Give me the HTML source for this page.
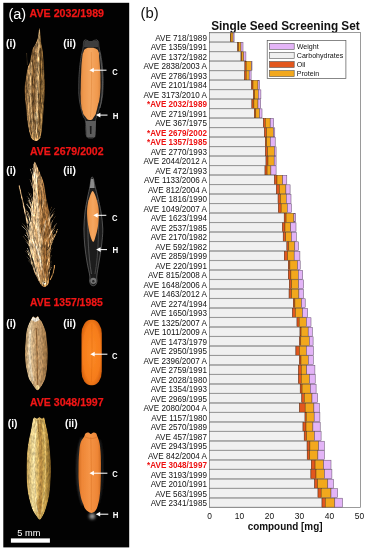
<!DOCTYPE html>
<html lang="en"><head><meta charset="utf-8"><title>Single Seed Screening Set</title>
<style>
html,body{margin:0;padding:0;background:#fff;}
body{width:366px;height:550px;overflow:hidden;font-family:"Liberation Sans",sans-serif;}
svg{display:block;}
text{font-family:"Liberation Sans",sans-serif;}
.yl{font-size:8.55px;fill:#111;text-anchor:end;}
.yr{font-size:8.55px;fill:#ee1111;font-weight:bold;text-anchor:end;}
.tk{font-size:8.9px;fill:#111;text-anchor:middle;}
.lg{font-size:7.5px;fill:#111;}
.red{font-size:10.4px;font-weight:bold;fill:#f01616;stroke:#f01616;stroke-width:0.25px;}
.wh{fill:#fff;font-size:10.5px;}
.ch{fill:#fff;font-size:9.4px;font-weight:bold;}
.ro{fill:#fff;font-size:10.3px;font-weight:bold;}
</style></head><body>
<svg width="366" height="550" viewBox="0 0 366 550">

<defs>
<filter id="b03" x="-20%" y="-20%" width="140%" height="140%"><feGaussianBlur stdDeviation="0.35"/></filter>
<filter id="tex" x="-10%" y="-5%" width="120%" height="110%" color-interpolation-filters="sRGB"><feTurbulence type="fractalNoise" baseFrequency="0.75 0.16" numOctaves="3" seed="4" result="n"/><feColorMatrix in="n" type="matrix" values="1.5 0 0 0 -0.25  1.5 0 0 0 -0.25  1.5 0 0 0 -0.25  0 0 0 0 1" result="g"/><feComposite in="SourceGraphic" in2="g" operator="arithmetic" k1="1.0" k2="0.5" k3="0" k4="0" result="m"/><feComposite in="m" in2="SourceGraphic" operator="in" result="c"/><feGaussianBlur in="c" stdDeviation="0.3"/></filter>
<filter id="tex2" x="-10%" y="-5%" width="120%" height="110%" color-interpolation-filters="sRGB"><feTurbulence type="fractalNoise" baseFrequency="0.6 0.25" numOctaves="2" seed="9" result="n"/><feColorMatrix in="n" type="matrix" values="0.8 0 0 0 0.1  0.8 0 0 0 0.1  0.8 0 0 0 0.1  0 0 0 0 1" result="g"/><feComposite in="SourceGraphic" in2="g" operator="arithmetic" k1="0.7" k2="0.65" k3="0" k4="0" result="m"/><feComposite in="m" in2="SourceGraphic" operator="in" result="c"/><feGaussianBlur in="c" stdDeviation="0.3"/></filter>
<filter id="b06" x="-20%" y="-20%" width="140%" height="140%"><feGaussianBlur stdDeviation="0.6"/></filter>
<filter id="b1" x="-30%" y="-30%" width="160%" height="160%"><feGaussianBlur stdDeviation="1"/></filter>
<filter id="b2" x="-50%" y="-50%" width="200%" height="200%"><feGaussianBlur stdDeviation="1.6"/></filter>
<linearGradient id="g1" x1="0" y1="0" x2="1" y2="0"><stop offset="0" stop-color="#5e4020"/><stop offset="0.2" stop-color="#a88252"/><stop offset="0.42" stop-color="#74522c"/><stop offset="0.55" stop-color="#a88458"/><stop offset="0.78" stop-color="#8e6a3a"/><stop offset="1" stop-color="#442c10"/></linearGradient>
<linearGradient id="g2" x1="0" y1="0" x2="1" y2="0"><stop offset="0" stop-color="#d9bd90"/><stop offset="0.35" stop-color="#c9a272"/><stop offset="0.65" stop-color="#9a6a38"/><stop offset="1" stop-color="#7e5226"/></linearGradient>
<linearGradient id="g3" x1="0" y1="0" x2="1" y2="0"><stop offset="0" stop-color="#ad8858"/><stop offset="0.2" stop-color="#dac29a"/><stop offset="0.45" stop-color="#c6a070"/><stop offset="0.75" stop-color="#b78e5e"/><stop offset="1" stop-color="#866034"/></linearGradient>
<linearGradient id="g4" x1="0" y1="0" x2="1" y2="0"><stop offset="0" stop-color="#b8944a"/><stop offset="0.25" stop-color="#ecd898"/><stop offset="0.5" stop-color="#d2ae5e"/><stop offset="0.78" stop-color="#c09a48"/><stop offset="1" stop-color="#6a4c1a"/></linearGradient>
<linearGradient id="o1" x1="0" y1="0" x2="1" y2="0"><stop offset="0" stop-color="#dc8840"/><stop offset="0.15" stop-color="#f0994e"/><stop offset="0.5" stop-color="#f5a760"/><stop offset="0.85" stop-color="#f0994e"/><stop offset="1" stop-color="#dc8840"/></linearGradient>
<radialGradient id="o3" cx="0.5" cy="0.5" r="0.62"><stop offset="0" stop-color="#fb8a26"/><stop offset="0.7" stop-color="#f67c1a"/><stop offset="1" stop-color="#c9560a"/></radialGradient>
<linearGradient id="o4" x1="0" y1="0" x2="1" y2="0"><stop offset="0" stop-color="#d26e24"/><stop offset="0.15" stop-color="#ee8636"/><stop offset="0.5" stop-color="#f59446"/><stop offset="0.85" stop-color="#ee8636"/><stop offset="1" stop-color="#d26e24"/></linearGradient>
</defs>
<rect x="0" y="0" width="366" height="550" fill="#fff"/>
<g id="panel">
<rect x="3.3" y="2.8" width="125.9" height="544.6" fill="#020202"/>
<text class="wh" x="8.4" y="19" style="font-size:15.2px" textLength="17.8" lengthAdjust="spacingAndGlyphs">(a)</text>
<text class="red" x="29.6" y="16.9" textLength="74.4" lengthAdjust="spacingAndGlyphs">AVE 2032/1989</text>
<text class="ro" x="6.1" y="47.2">(i)</text>
<text class="ro" x="63.3" y="47.2">(ii)</text>
<g filter="url(#tex)">
<path d="M39.6,27.8 C40.1,27.8 40.6,34.4 40.9,37.0 C41.2,39.6 41.2,41.4 41.5,43.5 C41.8,45.6 42.3,46.5 42.7,49.6 C43.1,52.7 43.5,56.9 43.9,62.0 C44.3,67.1 44.8,75.3 45.0,80.0 C45.2,84.7 45.3,85.1 45.1,90.0 C44.9,94.9 44.3,104.3 43.9,109.6 C43.5,114.9 43.1,117.9 42.7,122.0 C42.3,126.1 42.1,131.0 41.4,134.0 C40.7,137.0 39.5,138.8 38.5,140.0 C37.5,141.2 36.4,141.2 35.3,141.0 C34.2,140.8 32.9,140.2 32.0,139.0 C31.1,137.8 30.6,136.8 29.8,134.0 C29.0,131.2 27.9,126.1 27.3,122.0 C26.7,117.9 26.5,114.9 26.0,109.6 C25.5,104.3 24.5,94.9 24.4,90.0 C24.3,85.1 25.0,83.7 25.5,80.0 C26.0,76.3 26.8,71.0 27.5,68.0 C28.2,65.0 29.0,65.1 29.8,62.0 C30.6,58.9 31.3,52.7 32.2,49.6 C33.2,46.5 34.5,45.6 35.5,43.5 C36.5,41.4 37.2,39.6 37.9,37.0 C38.6,34.4 39.1,27.8 39.6,27.8 Z" fill="url(#g1)"/>
<path d="M39.2,30 C38.5,60 37.5,100 36.3,136" stroke="#e6c590" stroke-width="1" fill="none" opacity="0.85"/>
<path d="M40.3,48 C41,80 40.5,110 38.6,132" stroke="#3e270c" stroke-width="0.9" fill="none" opacity="0.8"/>
<path d="M31.5,62 C29.5,85 30.5,110 33.5,134" stroke="#dcb680" stroke-width="1.3" fill="none" opacity="0.7"/>
<path d="M35.3,52 C34.5,85 34.8,110 35.6,130" stroke="#4a2e0e" stroke-width="0.8" fill="none" opacity="0.75"/>
<path d="M43,70 C43.5,90 42.5,112 40.5,130" stroke="#d8ac66" stroke-width="0.9" fill="none" opacity="0.7"/>
<path d="M26.7,53 L27.3,65" stroke="#b89058" stroke-width="0.8" fill="none" opacity="0.8"/>
<ellipse cx="36.2" cy="116" rx="1.6" ry="4" fill="#dcc090" opacity="0.8"/>
<ellipse cx="35.6" cy="136.3" rx="4.8" ry="3.8" fill="#b48c56" opacity="0.85"/>
<path d="M31,137 C33,141 38,141.5 40.5,137" stroke="#d2aa6a" stroke-width="1" fill="none" opacity="0.8"/>
</g>
<g filter="url(#b06)">
<path d="M84.0,41.0 C85.1,38.9 85.3,40.0 87.0,40.3 C88.7,40.6 88.5,42.0 90.5,42.0 C92.5,42.0 92.5,40.6 94.5,40.3 C96.5,40.0 96.7,38.9 98.0,41.0 C99.3,43.1 98.3,43.6 99.2,48.0 C100.1,52.4 100.2,51.1 101.2,57.5 C102.2,63.9 102.3,63.9 102.8,72.0 C103.3,80.1 103.3,80.5 103.0,88.0 C102.7,95.5 102.7,94.7 101.8,100.0 C100.9,105.3 100.8,103.7 99.5,108.0 C98.2,112.3 98.1,112.5 97.0,116.0 C95.9,119.5 96.0,117.3 95.5,121.0 C95.0,124.7 95.5,125.9 95.2,130.0 C94.9,134.1 95.4,134.4 94.3,136.5 C93.2,138.6 92.9,138.0 91.0,138.0 C89.1,138.0 88.4,138.6 87.0,136.5 C85.6,134.4 86.3,134.1 85.9,130.0 C85.5,125.9 86.3,124.9 85.5,121.0 C84.7,117.1 84.3,119.5 83.0,115.5 C81.7,111.5 81.6,111.2 80.5,106.0 C79.4,100.8 79.5,101.3 79.0,96.0 C78.5,90.7 78.7,92.4 78.8,86.0 C78.9,79.6 78.7,79.6 79.3,72.0 C79.9,64.4 80.0,63.9 81.0,57.5 C82.0,51.1 82.2,52.4 83.0,48.0 C83.8,43.6 82.9,43.1 84.0,41.0 Z" fill="#1c1c1c" stroke="#505050" stroke-width="0.8"/>
<path d="M85.8,121 L96,121 L95.2,137.2 L86.6,137.2 Z" fill="#5c5c5c"/>
<path d="M89.8,126 L91.6,126 L91.5,134 L90,134 Z" fill="#1e1e1e"/>
<path d="M84.5,41 L97.8,41 L98.3,47 L84,47 Z" fill="#3e3e3e"/>
<path d="M99.5,52 C103,70 103.5,92 100,108" stroke="#7a7a7a" stroke-width="0.6" fill="none"/>
</g>
<g filter="url(#b03)">
<path d="M90.5,47.8 C93.3,47.8 93.1,47.3 95.5,48.6 C97.9,49.9 97.5,49.2 98.6,52.0 C99.7,54.8 98.7,52.6 99.2,58.0 C99.7,63.4 99.8,62.8 100.2,70.0 C100.6,77.2 100.5,75.4 100.5,82.0 C100.5,88.6 100.6,86.6 100.2,92.0 C99.8,97.4 100.0,96.1 99.3,100.0 C98.6,103.9 98.8,101.7 98.0,105.0 C97.2,108.3 97.5,107.7 96.5,111.0 C95.5,114.3 96.5,113.3 94.5,116.0 C92.5,118.7 92.9,120.0 90.0,120.0 C87.1,120.0 87.0,118.7 84.8,116.0 C82.5,113.3 83.6,114.3 82.5,111.0 C81.4,107.7 81.7,109.5 81.2,105.0 C80.7,100.5 80.8,101.4 80.7,96.0 C80.6,90.6 80.6,94.2 80.8,87.0 C81.0,79.8 80.8,80.7 81.2,72.0 C81.6,63.3 81.5,64.0 82.2,58.0 C82.9,52.0 82.4,54.8 83.5,52.0 C84.6,49.2 83.9,49.9 86.0,48.6 C88.1,47.3 87.7,47.8 90.5,47.8 Z" fill="url(#o1)"/>
<path d="M91.3,52 C91.8,75 91.6,100 90.5,117" stroke="#dc8238" stroke-width="0.7" fill="none" opacity="0.65"/>
</g>
<path d="M106.5,70.2 L92.4,70.2" stroke="#fff" stroke-width="1.05" fill="none"/>
<path d="M89.4,70.2 L93.80000000000001,67.8 L93.80000000000001,72.60000000000001 Z" fill="#fff"/>
<text class="ch" x="112.3" y="74.5" textLength="5.5" lengthAdjust="spacingAndGlyphs">C</text>
<path d="M107.5,115.1 L99,115.1" stroke="#fff" stroke-width="1.05" fill="none"/>
<path d="M96,115.1 L100.4,112.69999999999999 L100.4,117.5 Z" fill="#fff"/>
<text class="ch" x="112.7" y="118.7" textLength="5.7" lengthAdjust="spacingAndGlyphs">H</text>
<text class="red" x="30" y="155.3" textLength="73.6" lengthAdjust="spacingAndGlyphs">AVE 2679/2002</text>
<text class="ro" x="6.3" y="174.4">(i)</text>
<text class="ro" x="63.3" y="174.4">(ii)</text>
<g filter="url(#tex)">
<path d="M34.6,161.6 C35.4,161.3 36.6,165.0 38.0,168.0 C39.4,171.0 41.6,176.3 42.8,179.6 C44.0,182.9 44.5,185.3 45.0,188.0 C45.5,190.7 45.5,193.2 46.0,196.0 C46.5,198.8 47.5,202.3 48.0,205.0 C48.5,207.7 48.8,209.2 49.3,212.4 C49.8,215.6 50.5,220.1 51.0,224.0 C51.5,227.9 52.1,231.2 52.0,236.0 C51.9,240.8 50.8,247.5 50.5,253.0 C50.2,258.5 50.2,264.8 50.0,269.0 C49.8,273.2 49.8,275.5 49.5,278.0 C49.2,280.5 49.4,282.5 48.5,284.0 C47.6,285.5 45.8,287.2 44.4,287.2 C43.0,287.2 41.6,285.7 40.3,284.0 C39.0,282.3 37.7,279.5 36.5,277.0 C35.3,274.5 34.1,273.0 33.0,269.0 C31.9,265.0 30.7,258.5 30.0,253.0 C29.3,247.5 29.1,240.8 29.0,236.0 C28.9,231.2 29.3,227.9 29.7,224.0 C30.1,220.1 30.8,217.1 31.3,212.4 C31.9,207.7 32.9,201.5 33.0,196.0 C33.1,190.5 32.1,183.9 32.1,179.6 C32.1,175.3 32.6,173.0 33.0,170.0 C33.4,167.0 33.8,161.9 34.6,161.6 Z" fill="url(#g2)"/>
<path d="M39.4,221.6 Q37.6,211.7 32.6,203.0" stroke="#d9bb8c" stroke-width="0.50" fill="none" opacity="0.85"/>
<path d="M39.2,215.3 Q38.2,208.5 36.2,202.0" stroke="#ead7b4" stroke-width="0.70" fill="none" opacity="0.85"/>
<path d="M37.9,200.8 Q36.2,191.2 31.9,182.5" stroke="#ead7b4" stroke-width="0.43" fill="none" opacity="0.85"/>
<path d="M40.8,251.8 Q38.4,236.8 33.0,222.8" stroke="#b98a52" stroke-width="0.86" fill="none" opacity="0.85"/>
<path d="M39.2,214.5 Q38.3,208.4 37.1,202.5" stroke="#dcc09a" stroke-width="0.55" fill="none" opacity="0.85"/>
<path d="M40.5,246.9 Q38.8,234.3 35.6,222.1" stroke="#ead7b4" stroke-width="0.87" fill="none" opacity="0.85"/>
<path d="M41.7,228.7 Q41.2,222.0 42.3,215.3" stroke="#c49a62" stroke-width="0.66" fill="none" opacity="0.85"/>
<path d="M36.6,198.8 Q35.2,191.2 31.5,184.5" stroke="#e3cba3" stroke-width="0.91" fill="none" opacity="0.85"/>
<path d="M43.3,259.1 Q41.6,250.5 36.6,243.3" stroke="#d9bb8c" stroke-width="0.78" fill="none" opacity="0.85"/>
<path d="M41.9,252.0 Q41.2,237.1 45.6,222.4" stroke="#d4b080" stroke-width="0.46" fill="none" opacity="0.85"/>
<path d="M38.3,225.0 Q35.7,211.6 28.2,200.1" stroke="#b98a52" stroke-width="0.57" fill="none" opacity="0.85"/>
<path d="M36.3,208.6 Q35.2,201.3 33.2,194.2" stroke="#e3cba3" stroke-width="0.74" fill="none" opacity="0.85"/>
<path d="M35.5,183.8 Q34.7,178.5 32.9,173.6" stroke="#d9bb8c" stroke-width="0.41" fill="none" opacity="0.85"/>
<path d="M40.5,230.7 Q38.1,216.0 32.3,202.4" stroke="#b98a52" stroke-width="0.47" fill="none" opacity="0.85"/>
<path d="M40.3,228.8 Q37.7,214.7 30.4,202.3" stroke="#d9bb8c" stroke-width="0.80" fill="none" opacity="0.85"/>
<path d="M42.7,255.9 Q42.7,246.2 48.0,237.1" stroke="#d4b080" stroke-width="0.73" fill="none" opacity="0.85"/>
<path d="M37.9,224.9 Q36.4,214.3 33.3,204.2" stroke="#dcc09a" stroke-width="0.79" fill="none" opacity="0.85"/>
<path d="M42.4,243.6 Q41.9,231.9 45.7,220.3" stroke="#dcc09a" stroke-width="0.94" fill="none" opacity="0.85"/>
<path d="M42.4,260.2 Q42.0,243.8 48.6,227.9" stroke="#b98a52" stroke-width="0.52" fill="none" opacity="0.85"/>
<path d="M36.3,175.8 Q35.4,170.0 33.8,164.4" stroke="#ead7b4" stroke-width="0.43" fill="none" opacity="0.85"/>
<path d="M41.0,240.6 Q39.8,232.6 37.7,224.9" stroke="#f2e6cf" stroke-width="0.94" fill="none" opacity="0.85"/>
<path d="M38.2,200.5 Q37.6,188.8 40.6,177.1" stroke="#c49a62" stroke-width="0.66" fill="none" opacity="0.85"/>
<path d="M39.3,231.9 Q38.1,225.0 35.0,218.6" stroke="#f2e6cf" stroke-width="0.44" fill="none" opacity="0.85"/>
<path d="M39.1,237.2 Q37.8,229.5 34.5,222.5" stroke="#dcc09a" stroke-width="0.42" fill="none" opacity="0.85"/>
<path d="M40.9,232.6 Q38.6,218.5 33.5,205.3" stroke="#e3cba3" stroke-width="0.42" fill="none" opacity="0.85"/>
<path d="M36.8,216.5 Q36.4,207.5 39.1,198.6" stroke="#9a6a36" stroke-width="0.44" fill="none" opacity="0.85"/>
<path d="M41.4,265.3 Q38.1,248.2 28.4,233.5" stroke="#f2e6cf" stroke-width="0.91" fill="none" opacity="0.85"/>
<path d="M36.9,196.9 Q35.5,186.2 33.4,175.7" stroke="#e3cba3" stroke-width="0.68" fill="none" opacity="0.85"/>
<path d="M38.9,237.3 Q37.3,228.3 32.8,220.3" stroke="#f2e6cf" stroke-width="0.83" fill="none" opacity="0.85"/>
<path d="M37.3,200.2 Q36.3,192.4 34.5,184.7" stroke="#b98a52" stroke-width="0.51" fill="none" opacity="0.85"/>
<path d="M43.7,254.4 Q43.0,237.8 48.6,221.4" stroke="#8c5e2c" stroke-width="0.58" fill="none" opacity="0.85"/>
<path d="M36.1,199.7 Q34.3,188.9 29.8,179.1" stroke="#d9bb8c" stroke-width="0.88" fill="none" opacity="0.85"/>
<path d="M40.2,228.9 Q39.0,220.6 36.9,212.4" stroke="#c9a26c" stroke-width="0.86" fill="none" opacity="0.85"/>
<path d="M36.7,182.0 Q35.4,172.7 33.7,163.6" stroke="#f2e6cf" stroke-width="0.55" fill="none" opacity="0.85"/>
<path d="M41.2,248.8 Q40.9,236.5 45.8,224.5" stroke="#dcc09a" stroke-width="0.86" fill="none" opacity="0.85"/>
<path d="M38.5,205.5 Q37.1,195.9 34.4,186.7" stroke="#e3cba3" stroke-width="0.71" fill="none" opacity="0.85"/>
<path d="M37.2,202.1 Q36.2,196.4 33.6,191.3" stroke="#d9bb8c" stroke-width="0.83" fill="none" opacity="0.85"/>
<path d="M38.2,186.9 Q37.0,179.4 34.3,172.4" stroke="#dcc09a" stroke-width="0.75" fill="none" opacity="0.85"/>
<path d="M38.3,230.7 Q36.9,222.3 33.7,214.5" stroke="#d9bb8c" stroke-width="0.79" fill="none" opacity="0.85"/>
<path d="M36.7,190.9 Q35.9,184.8 34.3,178.9" stroke="#c9a26c" stroke-width="0.70" fill="none" opacity="0.85"/>
<path d="M33.7,176.6 Q33.3,170.1 34.4,163.6" stroke="#8c5e2c" stroke-width="0.74" fill="none" opacity="0.85"/>
<path d="M35.4,184.8 Q34.3,176.2 32.4,167.9" stroke="#dcc09a" stroke-width="0.88" fill="none" opacity="0.85"/>
<path d="M37.9,186.8 Q36.9,180.7 34.2,175.1" stroke="#ead7b4" stroke-width="0.94" fill="none" opacity="0.85"/>
<path d="M39.6,212.7 Q38.2,204.8 34.8,197.6" stroke="#ead7b4" stroke-width="0.59" fill="none" opacity="0.85"/>
<path d="M42.8,266.5 Q42.2,253.9 45.3,241.4" stroke="#c49a62" stroke-width="0.52" fill="none" opacity="0.85"/>
<path d="M35.4,180.2 Q34.6,174.7 33.2,169.4" stroke="#e3cba3" stroke-width="0.90" fill="none" opacity="0.85"/>
<path d="M41.0,219.6 Q40.7,209.4 44.1,199.3" stroke="#d4b080" stroke-width="0.92" fill="none" opacity="0.85"/>
<path d="M40.6,217.3 Q38.8,205.4 34.6,194.2" stroke="#b98a52" stroke-width="0.56" fill="none" opacity="0.85"/>
<path d="M37.3,193.5 Q37.1,185.1 40.0,176.9" stroke="#b98a52" stroke-width="0.57" fill="none" opacity="0.85"/>
<path d="M41.3,229.3 Q41.1,220.9 44.7,212.8" stroke="#9a6a36" stroke-width="0.69" fill="none" opacity="0.85"/>
<path d="M36.9,209.0 Q36.4,202.4 36.8,195.7" stroke="#d4b080" stroke-width="0.42" fill="none" opacity="0.85"/>
<path d="M41.0,260.8 Q39.4,252.1 35.3,244.3" stroke="#f2e6cf" stroke-width="0.91" fill="none" opacity="0.85"/>
<path d="M35.8,186.6 Q34.8,179.0 33.3,171.5" stroke="#f2e6cf" stroke-width="0.90" fill="none" opacity="0.85"/>
<path d="M39.4,204.4 Q37.5,194.0 32.2,184.8" stroke="#ead7b4" stroke-width="0.51" fill="none" opacity="0.85"/>
<path d="M42.2,247.2 Q40.0,233.1 35.6,219.7" stroke="#f2e6cf" stroke-width="0.46" fill="none" opacity="0.85"/>
<path d="M35.3,193.3 Q34.9,184.2 37.4,175.3" stroke="#dcc09a" stroke-width="0.69" fill="none" opacity="0.85"/>
<path d="M38.9,223.2 Q36.6,210.3 31.1,198.5" stroke="#b98a52" stroke-width="0.51" fill="none" opacity="0.85"/>
<path d="M38.2,203.1 Q37.8,196.1 39.6,189.1" stroke="#9a6a36" stroke-width="0.87" fill="none" opacity="0.85"/>
<path d="M42.3,246.5 Q39.9,230.9 34.4,216.1" stroke="#c9a26c" stroke-width="0.89" fill="none" opacity="0.85"/>
<path d="M42.9,251.2 Q40.6,235.3 36.3,220.0" stroke="#d9bb8c" stroke-width="0.47" fill="none" opacity="0.85"/>
<path d="M42.5,265.7 Q39.7,249.0 32.6,233.7" stroke="#e3cba3" stroke-width="0.79" fill="none" opacity="0.85"/>
<path d="M42.2,250.5 Q40.7,242.0 36.7,234.3" stroke="#c9a26c" stroke-width="0.90" fill="none" opacity="0.85"/>
<path d="M37.0,190.3 Q36.4,182.3 37.2,174.3" stroke="#c49a62" stroke-width="0.51" fill="none" opacity="0.85"/>
<path d="M37.8,182.8 Q37.4,177.6 37.7,172.3" stroke="#dcc09a" stroke-width="0.65" fill="none" opacity="0.85"/>
<path d="M35.8,190.0 Q34.7,182.4 32.6,175.1" stroke="#d9bb8c" stroke-width="0.73" fill="none" opacity="0.85"/>
<path d="M44.9,278.4 Q43.0,267.6 38.0,257.9" stroke="#dcc09a" stroke-width="0.60" fill="none" opacity="0.85"/>
<path d="M35.2,186.2 Q33.7,177.0 30.0,168.4" stroke="#e3cba3" stroke-width="0.91" fill="none" opacity="0.85"/>
<path d="M41.8,259.3 Q41.6,244.5 48.5,230.4" stroke="#8c5e2c" stroke-width="0.62" fill="none" opacity="0.85"/>
<path d="M35.1,194.1 Q34.2,187.0 32.8,180.1" stroke="#c9a26c" stroke-width="0.94" fill="none" opacity="0.85"/>
<path d="M40.9,234.2 Q40.3,225.7 41.3,217.2" stroke="#9a6a36" stroke-width="0.95" fill="none" opacity="0.85"/>
<path d="M38.3,202.0 Q36.8,189.9 34.6,178.0" stroke="#b98a52" stroke-width="0.46" fill="none" opacity="0.85"/>
<path d="M41.1,246.0 Q40.6,238.1 42.0,230.2" stroke="#d4b080" stroke-width="0.41" fill="none" opacity="0.85"/>
<path d="M40.2,243.4 Q38.1,231.2 32.9,220.0" stroke="#b98a52" stroke-width="0.71" fill="none" opacity="0.85"/>
<path d="M32.1,263.5 Q30.9,254.1 27.3,247.9" stroke="#f2e6cf" stroke-width="0.94" fill="none" opacity="0.9"/>
<path d="M35.7,270.9 Q34.5,263.7 30.7,258.9" stroke="#f2e6cf" stroke-width="0.66" fill="none" opacity="0.9"/>
<path d="M31.7,245.6 Q30.8,239.5 28.1,235.5" stroke="#e3cba3" stroke-width="0.58" fill="none" opacity="0.9"/>
<path d="M38.6,276.6 Q37.7,268.2 35.0,262.6" stroke="#d9bb8c" stroke-width="0.74" fill="none" opacity="0.9"/>
<path d="M31.6,253.7 Q30.7,245.7 28.0,240.4" stroke="#c9a26c" stroke-width="0.82" fill="none" opacity="0.9"/>
<path d="M35.1,208.9 Q34.0,199.4 30.7,193.0" stroke="#d9bb8c" stroke-width="0.66" fill="none" opacity="0.9"/>
<path d="M32.7,241.8 Q31.8,236.6 28.8,233.2" stroke="#e3cba3" stroke-width="0.90" fill="none" opacity="0.9"/>
<path d="M34.1,216.1 Q33.0,211.1 29.7,207.8" stroke="#ead7b4" stroke-width="0.76" fill="none" opacity="0.9"/>
<path d="M30.0,240.1 Q29.2,236.0 26.8,233.2" stroke="#ead7b4" stroke-width="0.63" fill="none" opacity="0.9"/>
<path d="M32.3,215.8 Q30.8,208.8 26.4,204.1" stroke="#e3cba3" stroke-width="0.66" fill="none" opacity="0.9"/>
<path d="M34.1,264.9 Q31.8,256.4 24.8,250.7" stroke="#e3cba3" stroke-width="0.51" fill="none" opacity="0.9"/>
<path d="M31.1,242.0 Q30.1,236.5 27.0,232.8" stroke="#c9a26c" stroke-width="0.59" fill="none" opacity="0.9"/>
<path d="M32.5,252.0 Q31.4,244.0 28.2,238.6" stroke="#c9a26c" stroke-width="0.83" fill="none" opacity="0.9"/>
<path d="M31.2,219.6 Q28.9,211.1 22.2,205.4" stroke="#e3cba3" stroke-width="0.47" fill="none" opacity="0.9"/>
<path d="M32.5,209.7 Q31.2,203.6 27.5,199.6" stroke="#ead7b4" stroke-width="0.56" fill="none" opacity="0.9"/>
<path d="M32.2,226.4 Q31.0,217.2 27.4,211.0" stroke="#d9bb8c" stroke-width="0.77" fill="none" opacity="0.9"/>
<path d="M30.8,233.7 Q30.0,228.6 27.6,225.2" stroke="#e3cba3" stroke-width="0.52" fill="none" opacity="0.9"/>
<path d="M37.1,272.0 Q35.6,266.0 31.3,262.1" stroke="#d9bb8c" stroke-width="0.67" fill="none" opacity="0.9"/>
<path d="M33.2,262.5 Q32.5,257.7 30.7,254.4" stroke="#dcc09a" stroke-width="0.61" fill="none" opacity="0.9"/>
<path d="M32.3,247.2 Q30.7,238.3 26.1,232.3" stroke="#c9a26c" stroke-width="0.74" fill="none" opacity="0.9"/>
<path d="M30.4,240.6 Q29.2,233.7 25.6,229.1" stroke="#dcc09a" stroke-width="0.69" fill="none" opacity="0.9"/>
<path d="M31.9,257.8 Q31.0,249.2 28.0,243.6" stroke="#d9bb8c" stroke-width="0.91" fill="none" opacity="0.9"/>
<path d="M32.3,251.5 Q30.9,245.2 26.5,241.1" stroke="#c9a26c" stroke-width="0.59" fill="none" opacity="0.9"/>
<path d="M32.0,216.0 Q30.7,208.0 26.8,202.7" stroke="#ead7b4" stroke-width="0.61" fill="none" opacity="0.9"/>
<path d="M31.3,239.0 Q29.4,230.4 23.8,224.8" stroke="#c9a26c" stroke-width="0.67" fill="none" opacity="0.9"/>
<path d="M33.7,266.8 Q32.7,261.2 29.8,257.4" stroke="#e3cba3" stroke-width="0.90" fill="none" opacity="0.9"/>
<path d="M31.0,224.1 Q30.0,218.2 27.1,214.2" stroke="#f2e6cf" stroke-width="0.74" fill="none" opacity="0.9"/>
<path d="M35.1,266.3 Q34.1,260.4 31.1,256.4" stroke="#d9bb8c" stroke-width="0.87" fill="none" opacity="0.9"/>
<path d="M30.3,248.3 Q28.4,240.9 22.7,235.9" stroke="#c9a26c" stroke-width="0.86" fill="none" opacity="0.9"/>
<path d="M30.2,222.0 Q29.4,217.2 27.2,214.0" stroke="#ead7b4" stroke-width="0.78" fill="none" opacity="0.9"/>
<path d="M32.8,266.9 Q31.3,260.4 26.6,256.1" stroke="#ead7b4" stroke-width="0.62" fill="none" opacity="0.9"/>
<path d="M29.9,226.1 Q29.3,220.2 27.4,216.3" stroke="#e3cba3" stroke-width="0.52" fill="none" opacity="0.9"/>
<path d="M34.0,262.4 Q33.3,257.0 31.1,253.5" stroke="#dcc09a" stroke-width="0.62" fill="none" opacity="0.9"/>
<path d="M30.5,240.3 Q29.2,231.9 25.2,226.2" stroke="#d9bb8c" stroke-width="0.70" fill="none" opacity="0.9"/>
<path d="M32.1,246.4 Q30.3,239.2 24.6,234.5" stroke="#f2e6cf" stroke-width="0.83" fill="none" opacity="0.9"/>
<path d="M39.8,280.9 Q39.2,277.0 37.3,274.4" stroke="#ead7b4" stroke-width="0.89" fill="none" opacity="0.9"/>
<path d="M39.7,278.7 Q38.2,272.3 33.9,268.0" stroke="#ead7b4" stroke-width="0.66" fill="none" opacity="0.9"/>
<path d="M29.6,237.4 Q27.6,230.2 21.6,225.4" stroke="#f2e6cf" stroke-width="0.79" fill="none" opacity="0.9"/>
<path d="M30.7,229.7 Q29.7,222.8 26.6,218.1" stroke="#ead7b4" stroke-width="0.69" fill="none" opacity="0.9"/>
<path d="M32.6,261.3 Q31.5,256.9 28.0,254.0" stroke="#ead7b4" stroke-width="0.83" fill="none" opacity="0.9"/>
<path d="M33.6,206.3 Q32.3,197.9 28.4,192.2" stroke="#d9bb8c" stroke-width="0.54" fill="none" opacity="0.9"/>
<path d="M30.8,221.7 Q29.3,214.1 24.6,209.0" stroke="#d9bb8c" stroke-width="0.67" fill="none" opacity="0.9"/>
<path d="M36.5,273.9 Q34.4,265.7 27.8,260.3" stroke="#e3cba3" stroke-width="0.72" fill="none" opacity="0.9"/>
<path d="M34.5,267.9 Q33.2,263.0 29.4,259.8" stroke="#c9a26c" stroke-width="0.78" fill="none" opacity="0.9"/>
<path d="M32.5,264.4 Q31.0,255.7 26.6,249.9" stroke="#d9bb8c" stroke-width="0.92" fill="none" opacity="0.9"/>
<path d="M33.9,266.7 Q32.7,260.0 28.9,255.5" stroke="#c9a26c" stroke-width="0.84" fill="none" opacity="0.9"/>
<path d="M34.8,209.5 Q32.7,201.3 26.5,195.9" stroke="#c9a26c" stroke-width="0.68" fill="none" opacity="0.9"/>
<path d="M31.2,224.0 Q29.7,215.2 25.2,209.4" stroke="#c9a26c" stroke-width="0.52" fill="none" opacity="0.9"/>
<path d="M38.4,274.9 Q37.4,270.6 34.4,267.6" stroke="#dcc09a" stroke-width="0.58" fill="none" opacity="0.9"/>
<path d="M30.1,246.2 Q29.2,237.6 26.6,231.9" stroke="#d9bb8c" stroke-width="0.86" fill="none" opacity="0.9"/>
<path d="M32.3,211.3 Q31.3,203.2 28.4,197.7" stroke="#f2e6cf" stroke-width="0.80" fill="none" opacity="0.9"/>
<path d="M34.0,211.4 Q32.7,204.6 28.9,200.0" stroke="#ead7b4" stroke-width="0.84" fill="none" opacity="0.9"/>
<path d="M32.3,237.1 Q31.3,233.0 28.3,230.3" stroke="#d9bb8c" stroke-width="0.47" fill="none" opacity="0.9"/>
<path d="M30.8,236.8 Q28.5,228.6 21.7,223.0" stroke="#c9a26c" stroke-width="0.61" fill="none" opacity="0.9"/>
<path d="M32.5,210.9 Q31.1,204.7 27.0,200.6" stroke="#c9a26c" stroke-width="0.49" fill="none" opacity="0.9"/>
<path d="M33.1,215.8 Q31.5,208.6 26.5,203.8" stroke="#ead7b4" stroke-width="0.78" fill="none" opacity="0.9"/>
<path d="M33.3,206.0 Q32.1,197.9 28.7,192.6" stroke="#dcc09a" stroke-width="0.51" fill="none" opacity="0.9"/>
<path d="M35.1,264.4 Q33.3,256.3 27.8,250.8" stroke="#dcc09a" stroke-width="0.53" fill="none" opacity="0.9"/>
<path d="M33.3,253.3 Q31.4,246.1 25.4,241.2" stroke="#f2e6cf" stroke-width="0.73" fill="none" opacity="0.9"/>
<path d="M32.0,211.7 Q31.2,205.5 29.0,201.4" stroke="#c9a26c" stroke-width="0.92" fill="none" opacity="0.9"/>
<path d="M48.9,242.8 Q50.1,237.8 53.8,234.4" stroke="#c49a62" stroke-width="0.50" fill="none" opacity="0.9"/>
<path d="M50.7,245.4 Q51.6,238.5 54.4,233.9" stroke="#b98a52" stroke-width="0.65" fill="none" opacity="0.9"/>
<path d="M48.4,254.8 Q49.0,250.4 50.8,247.5" stroke="#b98a52" stroke-width="0.94" fill="none" opacity="0.9"/>
<path d="M49.2,237.1 Q50.4,232.1 54.1,228.7" stroke="#dcc09a" stroke-width="0.52" fill="none" opacity="0.9"/>
<path d="M50.7,227.0 Q52.0,220.2 55.8,215.6" stroke="#a87a44" stroke-width="0.76" fill="none" opacity="0.9"/>
<path d="M48.6,250.0 Q49.8,245.0 53.4,241.7" stroke="#b98a52" stroke-width="0.78" fill="none" opacity="0.9"/>
<path d="M51.2,244.8 Q52.0,239.4 54.6,235.8" stroke="#a87a44" stroke-width="0.50" fill="none" opacity="0.9"/>
<path d="M50.1,234.6 Q51.8,227.7 56.9,223.1" stroke="#dcc09a" stroke-width="0.81" fill="none" opacity="0.9"/>
<path d="M49.5,229.2 Q50.3,223.8 52.6,220.3" stroke="#dcc09a" stroke-width="0.70" fill="none" opacity="0.9"/>
<path d="M48.5,224.2 Q50.1,216.1 54.7,210.7" stroke="#b98a52" stroke-width="0.73" fill="none" opacity="0.9"/>
<path d="M48.0,219.2 Q49.0,211.6 51.8,206.5" stroke="#a87a44" stroke-width="0.74" fill="none" opacity="0.9"/>
<path d="M49.7,248.7 Q51.0,240.6 55.0,235.2" stroke="#a87a44" stroke-width="0.89" fill="none" opacity="0.9"/>
<path d="M49.3,237.9 Q50.2,233.1 53.1,229.9" stroke="#dcc09a" stroke-width="0.73" fill="none" opacity="0.9"/>
<path d="M50.5,242.7 Q52.5,235.5 58.4,230.8" stroke="#d4b080" stroke-width="0.75" fill="none" opacity="0.9"/>
<path d="M48.0,223.4 Q49.3,218.7 53.0,215.5" stroke="#b98a52" stroke-width="0.83" fill="none" opacity="0.9"/>
<path d="M51.3,234.0 Q52.7,227.9 57.2,223.8" stroke="#a87a44" stroke-width="0.47" fill="none" opacity="0.9"/>
<path d="M47.7,225.9 Q49.4,218.2 54.3,213.0" stroke="#d4b080" stroke-width="0.83" fill="none" opacity="0.9"/>
<path d="M47.3,255.3 Q48.6,248.9 52.6,244.6" stroke="#c49a62" stroke-width="0.53" fill="none" opacity="0.9"/>
<path d="M51.9,236.1 Q52.7,229.7 55.0,225.4" stroke="#a87a44" stroke-width="0.54" fill="none" opacity="0.9"/>
<path d="M50.6,240.9 Q51.7,234.4 54.7,230.1" stroke="#c49a62" stroke-width="0.81" fill="none" opacity="0.9"/>
<path d="M49.1,252.7 Q49.9,246.3 52.2,242.1" stroke="#d4b080" stroke-width="0.66" fill="none" opacity="0.9"/>
<path d="M48.8,245.4 Q50.3,238.6 55.1,234.0" stroke="#a87a44" stroke-width="0.89" fill="none" opacity="0.9"/>
<path d="M48.6,238.4 Q50.2,231.9 55.0,227.6" stroke="#c49a62" stroke-width="0.73" fill="none" opacity="0.9"/>
<path d="M48.5,257.8 Q49.6,251.6 52.8,247.5" stroke="#c49a62" stroke-width="0.61" fill="none" opacity="0.9"/>
<path d="M48.0,220.4 Q49.7,212.9 54.8,207.9" stroke="#dcc09a" stroke-width="0.61" fill="none" opacity="0.9"/>
<path d="M47.4,252.7 Q48.6,244.8 52.0,239.5" stroke="#a87a44" stroke-width="0.57" fill="none" opacity="0.9"/>
<path d="M47.0,256.4 Q47.7,250.2 50.0,246.0" stroke="#b98a52" stroke-width="0.72" fill="none" opacity="0.9"/>
<path d="M47.7,246.9 Q49.7,239.9 55.6,235.3" stroke="#d4b080" stroke-width="0.88" fill="none" opacity="0.9"/>
<path d="M49.1,236.5 Q50.2,231.9 53.4,228.9" stroke="#dcc09a" stroke-width="0.51" fill="none" opacity="0.9"/>
<path d="M48.8,221.2 Q49.8,217.0 53.0,214.3" stroke="#dcc09a" stroke-width="0.93" fill="none" opacity="0.9"/>
<path d="M49.4,262.0 Q50.0,257.7 52.0,254.9" stroke="#c49a62" stroke-width="0.67" fill="none" opacity="0.9"/>
<path d="M48.1,270.1 Q48.9,266.2 51.5,263.7" stroke="#b98a52" stroke-width="0.47" fill="none" opacity="0.9"/>
<path d="M47.1,262.6 Q47.8,258.4 50.2,255.6" stroke="#a87a44" stroke-width="0.89" fill="none" opacity="0.9"/>
<path d="M47.1,265.6 Q47.6,260.8 49.3,257.6" stroke="#d4b080" stroke-width="0.87" fill="none" opacity="0.9"/>
<path d="M48.4,268.4 Q49.3,264.6 52.2,262.1" stroke="#dcc09a" stroke-width="0.55" fill="none" opacity="0.9"/>
<path d="M49.1,273.4 Q49.7,268.3 51.4,264.9" stroke="#c49a62" stroke-width="0.60" fill="none" opacity="0.9"/>
<path d="M46.2,276.7 Q46.9,272.5 49.1,269.7" stroke="#b98a52" stroke-width="0.62" fill="none" opacity="0.9"/>
<path d="M46.8,279.2 Q47.4,274.7 49.1,271.8" stroke="#d4b080" stroke-width="0.51" fill="none" opacity="0.9"/>
<path d="M48.8,274.4 Q49.6,269.8 52.2,266.7" stroke="#d4b080" stroke-width="0.85" fill="none" opacity="0.9"/>
<path d="M47.7,268.7 Q48.6,264.0 51.5,260.8" stroke="#b98a52" stroke-width="0.94" fill="none" opacity="0.9"/>
<path d="M30,240 L26,225" stroke="#050505" stroke-width="0.9" fill="none" opacity="0.8"/>
<path d="M33,262 L28.5,246" stroke="#050505" stroke-width="0.9" fill="none" opacity="0.8"/>
<path d="M36,272 L32,258" stroke="#050505" stroke-width="0.9" fill="none" opacity="0.8"/>
<path d="M47.5,250 L54,238" stroke="#050505" stroke-width="0.9" fill="none" opacity="0.8"/>
<path d="M49,272 L51.5,258" stroke="#050505" stroke-width="0.9" fill="none" opacity="0.8"/>
<path d="M31,222 L29,208" stroke="#050505" stroke-width="0.9" fill="none" opacity="0.8"/>
<path d="M19,185.3 C21.5,195 24,208 28,224" stroke="#cfa878" stroke-width="1.5" fill="none"/>
<path d="M23.5,205 C25,215 27.5,228 31,240" stroke="#dcc09a" stroke-width="0.9" fill="none" opacity="0.9"/>
<path d="M50,246 C53,240 55.5,235 57.5,229" stroke="#c49a62" stroke-width="1" fill="none"/>
<path d="M50,280 C52.5,276 54,271 54.5,265" stroke="#a87a44" stroke-width="1.6" fill="none"/>
<path d="M38.5,180 C41,205 43.5,240 45.5,274" stroke="#7a4e22" stroke-width="2.4" fill="none" opacity="0.5"/>
<path d="M36,176 C37,200 38,235 41,270" stroke="#ecd9b6" stroke-width="1.6" fill="none" opacity="0.55"/>
<circle cx="44.4" cy="282.4" r="4.2" fill="#b48a52"/>
<ellipse cx="44.2" cy="283" rx="1.8" ry="1.5" fill="#efe2c6"/>
<ellipse cx="44.6" cy="282.6" rx="0.9" ry="0.7" fill="#5a3c18"/>
</g>
<g filter="url(#b06)">
<path d="M91.3,178.0 C91.8,176.7 92.6,176.7 93.2,178.0 C93.8,179.3 94.2,182.7 95.0,186.0 C95.8,189.3 97.0,193.7 98.0,198.0 C99.0,202.3 100.2,206.8 101.0,212.0 C101.8,217.2 102.7,223.3 102.8,229.0 C102.9,234.7 102.1,240.5 101.5,246.0 C100.9,251.5 99.8,257.0 99.0,262.0 C98.2,267.0 97.1,272.8 96.8,276.0 C96.5,279.2 97.2,279.6 97.0,281.0 C96.8,282.4 96.4,283.8 95.8,284.6 C95.2,285.4 94.1,285.8 93.3,285.8 C92.5,285.8 91.4,285.4 90.8,284.6 C90.2,283.8 89.8,282.4 89.6,281.0 C89.4,279.6 90.2,279.2 89.8,276.0 C89.4,272.8 87.8,267.0 87.0,262.0 C86.2,257.0 85.3,251.5 84.8,246.0 C84.3,240.5 83.9,234.7 83.9,229.0 C83.9,223.3 84.4,217.2 85.0,212.0 C85.6,206.8 86.7,202.3 87.5,198.0 C88.3,193.7 89.4,189.3 90.0,186.0 C90.6,182.7 90.8,179.3 91.3,178.0 Z" fill="#1e1e1e" stroke="#6c6c6c" stroke-width="0.7"/>
<path d="M88.5,200 C87,225 88,255 91.5,274" stroke="#5c5c5c" stroke-width="0.8" fill="none"/>
<path d="M97.5,200 C99.5,225 98.5,255 95,274" stroke="#4c4c4c" stroke-width="0.8" fill="none"/>
<circle cx="93.3" cy="280.8" r="3.1" fill="#747474"/>
<circle cx="93.3" cy="281.2" r="1.2" fill="#2a2a2a"/>
<path d="M91,179 L93.5,179 L94.6,188 L89.8,188 Z" fill="#8c8c8c"/>
</g>
<g filter="url(#b03)">
<path d="M92.6,191.0 C93.5,191.0 94.6,193.7 95.5,196.0 C96.4,198.3 97.4,202.0 98.0,205.0 C98.6,208.0 98.9,210.5 98.9,214.0 C98.9,217.5 98.5,222.5 98.0,226.0 C97.5,229.5 96.8,232.4 96.0,235.0 C95.2,237.6 94.3,241.3 93.5,241.8 C92.7,242.3 91.8,240.3 91.0,238.0 C90.2,235.7 89.3,232.0 88.6,228.0 C87.9,224.0 87.1,218.0 87.0,214.0 C86.9,210.0 87.3,207.0 87.8,204.0 C88.3,201.0 89.2,198.2 90.0,196.0 C90.8,193.8 91.7,191.0 92.6,191.0 Z" fill="url(#o1)"/>
</g>
<path d="M106.3,215.3 L96.3,215.3" stroke="#fff" stroke-width="1.05" fill="none"/>
<path d="M93.3,215.3 L97.7,212.9 L97.7,217.70000000000002 Z" fill="#fff"/>
<text class="ch" x="112.0" y="220.8" textLength="5.5" lengthAdjust="spacingAndGlyphs">C</text>
<path d="M107,249.6 L99.2,249.6" stroke="#fff" stroke-width="1.05" fill="none"/>
<path d="M96.2,249.6 L100.60000000000001,247.2 L100.60000000000001,252.0 Z" fill="#fff"/>
<text class="ch" x="112.5" y="253.2" textLength="5.7" lengthAdjust="spacingAndGlyphs">H</text>
<text class="red" x="30" y="306" textLength="72.8" lengthAdjust="spacingAndGlyphs">AVE 1357/1985</text>
<text class="ro" x="6.3" y="327.2">(i)</text>
<text class="ro" x="63.3" y="327.2">(ii)</text>
<g filter="url(#tex2)">
<path d="M35.5,317.6 C36.3,317.6 37.3,315.8 38.0,316.0 C38.7,316.2 39.1,318.1 39.7,319.0 C40.3,319.9 41.1,320.4 41.8,321.5 C42.4,322.6 42.9,323.8 43.6,325.5 C44.3,327.2 45.4,329.4 46.0,332.0 C46.6,334.6 46.7,338.2 47.0,341.0 C47.3,343.8 47.7,346.4 47.8,349.0 C47.9,351.6 47.8,353.9 47.8,356.4 C47.8,358.9 47.7,361.4 47.5,364.0 C47.3,366.6 47.0,369.5 46.7,371.8 C46.4,374.1 46.0,376.2 45.5,378.0 C45.0,379.8 44.4,381.1 43.6,382.6 C42.9,384.1 42.0,385.7 41.0,387.0 C40.0,388.3 38.6,390.4 37.4,390.4 C36.2,390.4 35.0,388.3 34.0,387.0 C33.0,385.7 32.1,384.1 31.2,382.6 C30.3,381.1 29.2,379.8 28.5,378.0 C27.8,376.2 27.5,374.1 27.0,371.8 C26.5,369.5 25.8,366.6 25.5,364.0 C25.2,361.4 25.1,358.9 25.0,356.4 C24.9,353.9 24.9,351.6 25.0,349.0 C25.1,346.4 25.3,343.8 25.5,341.0 C25.7,338.2 25.9,334.6 26.3,332.0 C26.7,329.4 27.5,327.2 28.1,325.5 C28.7,323.8 29.3,322.6 29.8,321.5 C30.3,320.4 30.7,319.9 31.2,319.0 C31.7,318.1 32.3,316.4 33.0,316.2 C33.7,316.0 34.7,317.6 35.5,317.6 Z" fill="url(#g3)"/>
<path d="M31.5,320 L33,316.6 L35.5,318.4 L38,316.4 L39.5,320 L35.5,322 Z" fill="#ebe4d6"/>
<path d="M36.3,328 C36.8,345 37.6,368 37.5,386" stroke="#86582a" stroke-width="1.2" fill="none" opacity="0.8"/>
<path d="M30.5,330 C28.8,346 29.5,366 33,381" stroke="#efe2ca" stroke-width="1.8" fill="none" opacity="0.55"/>
<path d="M42.5,330 C45,346 44.6,366 41,382" stroke="#a67e4c" stroke-width="1.6" fill="none" opacity="0.5"/>
<ellipse cx="37.5" cy="387.3" rx="2" ry="2.4" fill="#ecd292" opacity="0.9"/>
</g>
<g filter="url(#b03)">
<rect x="81.5" y="319.8" width="20.3" height="65.5" rx="9.4" ry="14" fill="url(#o3)"/>
<path d="M91.8,324 C92.2,345 92,365 91.4,382" stroke="#df6a10" stroke-width="0.8" fill="none" opacity="0.6"/>
</g>
<path d="M107.4,354.2 L93.3,354.2" stroke="#fff" stroke-width="1.05" fill="none"/>
<path d="M90.3,354.2 L94.7,351.8 L94.7,356.59999999999997 Z" fill="#fff"/>
<text class="ch" x="112.0" y="359.0" textLength="5.5" lengthAdjust="spacingAndGlyphs">C</text>
<text class="red" x="30" y="406.1" textLength="73.6" lengthAdjust="spacingAndGlyphs">AVE 3048/1997</text>
<text class="ro" x="7.8" y="427">(i)</text>
<text class="ro" x="65" y="427">(ii)</text>
<g filter="url(#tex2)">
<path d="M32.8,419.5 C33.2,418.4 33.8,417.4 34.5,417.3 C35.2,417.2 36.2,418.7 37.0,418.6 C37.8,418.6 38.7,417.0 39.5,417.0 C40.3,417.0 41.2,418.3 42.0,418.4 C42.8,418.5 43.7,416.7 44.3,417.5 C44.9,418.3 45.0,420.8 45.5,423.0 C46.0,425.2 46.8,428.0 47.4,431.0 C48.0,434.0 48.5,437.5 49.0,441.0 C49.5,444.5 49.8,448.3 50.1,451.8 C50.4,455.3 50.8,458.5 50.9,462.0 C51.0,465.5 51.1,469.1 51.0,472.8 C50.9,476.5 50.8,480.5 50.5,484.0 C50.2,487.5 50.0,490.7 49.5,493.7 C49.0,496.7 48.5,499.2 47.8,502.0 C47.1,504.8 46.1,508.1 45.3,510.4 C44.5,512.7 43.7,514.4 42.8,516.0 C41.9,517.6 40.8,519.8 39.7,519.8 C38.6,519.8 37.4,517.6 36.3,516.0 C35.1,514.4 33.8,512.7 32.8,510.4 C31.7,508.1 30.8,504.8 30.0,502.0 C29.2,499.2 28.5,496.7 28.0,493.7 C27.5,490.7 27.1,487.5 26.8,484.0 C26.6,480.5 26.5,476.5 26.5,472.8 C26.5,469.1 26.5,465.5 26.6,462.0 C26.7,458.5 26.8,455.3 27.1,451.8 C27.4,448.3 28.0,444.5 28.6,441.0 C29.2,437.5 30.1,433.8 30.7,431.0 C31.3,428.2 31.6,425.9 32.0,424.0 C32.4,422.1 32.4,420.6 32.8,419.5 Z" fill="url(#g4)"/>
<path d="M36.5,421 C33.5,450 33.5,485 37.5,512" stroke="#f0e2b0" stroke-width="1.8" fill="none" opacity="0.6"/>
<path d="M39.5,424 C41.5,450 41.5,490 39.6,514" stroke="#9a6a2c" stroke-width="3" fill="none" opacity="0.5"/>
<path d="M43,422 C46.5,450 46.5,485 41.5,513" stroke="#e2c67c" stroke-width="1.2" fill="none" opacity="0.7"/>
<path d="M38,420 L38.5,432" stroke="#5a3c12" stroke-width="0.7" fill="none" opacity="0.7"/>
<path d="M41,420 L41,430" stroke="#5a3c12" stroke-width="0.7" fill="none" opacity="0.7"/>
<path d="M36,503 C38,497 41,497 42.5,503 L39.7,517 Z" fill="#a67a34" opacity="0.6"/>
</g>
<path d="M82,438 C76,455 75.5,485 83,505" fill="none" stroke="#555" stroke-width="1.3" filter="url(#b1)"/>
<path d="M99.5,440 C103.5,458 103.5,485 98,503" fill="none" stroke="#3c3c3c" stroke-width="1.1" filter="url(#b1)"/>
<circle cx="92.2" cy="516.2" r="3" fill="#9a9a9a" filter="url(#b2)"/>
<g filter="url(#b03)">
<path d="M84.2,436.5 C85.0,434.9 84.8,434.1 85.5,433.5 C86.2,432.9 87.6,432.5 88.5,432.6 C89.4,432.7 90.0,434.0 90.8,434.0 C91.6,434.0 92.6,432.5 93.5,432.4 C94.4,432.3 95.3,432.5 96.0,433.2 C96.7,433.9 96.8,434.9 97.4,436.5 C98.0,438.1 99.0,440.4 99.5,443.0 C100.0,445.6 100.4,448.9 100.6,452.0 C100.8,455.1 100.9,458.4 100.9,461.4 C101.0,464.4 100.9,467.0 100.9,470.0 C100.9,473.0 100.9,476.3 100.8,479.5 C100.7,482.7 100.6,486.0 100.4,489.0 C100.2,492.0 99.8,495.3 99.5,497.7 C99.2,500.1 98.8,501.7 98.3,503.5 C97.8,505.3 97.4,507.2 96.8,508.6 C96.2,510.0 95.4,511.1 94.5,511.8 C93.6,512.5 92.5,513.0 91.4,513.0 C90.3,513.0 89.1,512.2 88.0,511.5 C86.9,510.8 85.8,509.9 85.0,508.6 C84.2,507.3 83.7,505.3 83.0,503.5 C82.3,501.7 81.6,500.1 81.0,497.7 C80.4,495.3 79.8,492.0 79.4,489.0 C79.0,486.0 78.8,482.7 78.6,479.5 C78.4,476.3 78.5,473.0 78.5,470.0 C78.5,467.0 78.5,464.4 78.6,461.4 C78.7,458.4 78.9,455.1 79.2,452.0 C79.5,448.9 79.7,445.6 80.5,443.0 C81.3,440.4 83.4,438.1 84.2,436.5 Z" fill="url(#o4)"/>
<path d="M90.8,437 C91.4,460 91.4,490 91.2,510" stroke="#dc7424" stroke-width="0.8" fill="none" opacity="0.7"/>
<path d="M85,436.8 C89,439 94,439 97,437" stroke="#d06c22" stroke-width="0.7" fill="none" opacity="0.7"/>
</g>
<path d="M107.4,473.2 L92.5,473.2" stroke="#fff" stroke-width="1.05" fill="none"/>
<path d="M89.5,473.2 L93.9,470.8 L93.9,475.59999999999997 Z" fill="#fff"/>
<text class="ch" x="112.3" y="477.3" textLength="5.5" lengthAdjust="spacingAndGlyphs">C</text>
<path d="M108.3,514.2 L98.8,514.2" stroke="#fff" stroke-width="1.05" fill="none"/>
<path d="M95.8,514.2 L100.2,511.80000000000007 L100.2,516.6 Z" fill="#fff"/>
<text class="ch" x="112.7" y="518.3" textLength="5.7" lengthAdjust="spacingAndGlyphs">H</text>
<rect x="10.9" y="538.4" width="39" height="4.3" fill="#fff"/>
<text class="wh" x="17.3" y="535.7" style="font-size:9.8px" textLength="23" lengthAdjust="spacingAndGlyphs">5 mm</text>
</g>
<g id="chart">
<text x="140.5" y="18.1" font-size="14.8" fill="#111">(b)</text>
<text transform="translate(285.4,29.6) scale(0.94,1)" font-size="12.55" font-weight="bold" text-anchor="middle" fill="#111">Single Seed Screening Set</text>
<rect x="209.5" y="32.6" width="151.0" height="474.79999999999995" fill="#fff" stroke="#666" stroke-width="0.65"/>
<rect x="209.5" y="32.88" width="21.1" height="8.93" fill="#f0f0f0" stroke="#6a6a6a" stroke-width="0.5"/>
<rect x="230.6" y="32.88" width="0.4" height="8.93" fill="#e2571e" stroke="#5a2a10" stroke-width="0.5"/>
<rect x="231.0" y="32.88" width="2.1" height="8.93" fill="#f2a81d" stroke="#6a4510" stroke-width="0.5"/>
<rect x="233.1" y="32.88" width="1.0" height="8.93" fill="#e3b4f7" stroke="#5f4a68" stroke-width="0.5"/>
<text class="yl" transform="translate(206.9,40.95) scale(0.948,1)">AVE 718/1989</text>
<rect x="209.5" y="42.38" width="28.2" height="8.93" fill="#f0f0f0" stroke="#6a6a6a" stroke-width="0.5"/>
<rect x="237.7" y="42.38" width="1.0" height="8.93" fill="#e2571e" stroke="#5a2a10" stroke-width="0.5"/>
<rect x="238.7" y="42.38" width="2.3" height="8.93" fill="#f2a81d" stroke="#6a4510" stroke-width="0.5"/>
<rect x="241.0" y="42.38" width="2.0" height="8.93" fill="#e3b4f7" stroke="#5f4a68" stroke-width="0.5"/>
<text class="yl" transform="translate(206.9,50.44) scale(0.948,1)">AVE 1359/1991</text>
<rect x="209.5" y="51.88" width="31.5" height="8.93" fill="#f0f0f0" stroke="#6a6a6a" stroke-width="0.5"/>
<rect x="241.0" y="51.88" width="0.8" height="8.93" fill="#e2571e" stroke="#5a2a10" stroke-width="0.5"/>
<rect x="241.8" y="51.88" width="2.0" height="8.93" fill="#f2a81d" stroke="#6a4510" stroke-width="0.5"/>
<rect x="243.8" y="51.88" width="2.1" height="8.93" fill="#e3b4f7" stroke="#5f4a68" stroke-width="0.5"/>
<text class="yl" transform="translate(206.9,59.94) scale(0.948,1)">AVE 1372/1982</text>
<rect x="209.5" y="61.37" width="35.4" height="8.93" fill="#f0f0f0" stroke="#6a6a6a" stroke-width="0.5"/>
<rect x="244.9" y="61.37" width="1.3" height="8.93" fill="#e2571e" stroke="#5a2a10" stroke-width="0.5"/>
<rect x="246.2" y="61.37" width="5.3" height="8.93" fill="#f2a81d" stroke="#6a4510" stroke-width="0.5"/>
<rect x="251.5" y="61.37" width="0.5" height="8.93" fill="#e3b4f7" stroke="#5f4a68" stroke-width="0.5"/>
<text class="yl" transform="translate(206.9,69.44) scale(0.948,1)">AVE 2838/2003 A</text>
<rect x="209.5" y="70.87" width="35.1" height="8.93" fill="#f0f0f0" stroke="#6a6a6a" stroke-width="0.5"/>
<rect x="244.6" y="70.87" width="1.6" height="8.93" fill="#e2571e" stroke="#5a2a10" stroke-width="0.5"/>
<rect x="246.2" y="70.87" width="3.0" height="8.93" fill="#f2a81d" stroke="#6a4510" stroke-width="0.5"/>
<rect x="249.2" y="70.87" width="1.9" height="8.93" fill="#e3b4f7" stroke="#5f4a68" stroke-width="0.5"/>
<text class="yl" transform="translate(206.9,78.93) scale(0.948,1)">AVE 2786/1993</text>
<rect x="209.5" y="80.36" width="42.0" height="8.93" fill="#f0f0f0" stroke="#6a6a6a" stroke-width="0.5"/>
<rect x="251.5" y="80.36" width="1.5" height="8.93" fill="#e2571e" stroke="#5a2a10" stroke-width="0.5"/>
<rect x="253.0" y="80.36" width="5.0" height="8.93" fill="#f2a81d" stroke="#6a4510" stroke-width="0.5"/>
<rect x="258.0" y="80.36" width="1.7" height="8.93" fill="#e3b4f7" stroke="#5f4a68" stroke-width="0.5"/>
<text class="yl" transform="translate(206.9,88.43) scale(0.948,1)">AVE 2101/1984</text>
<rect x="209.5" y="89.86" width="43.9" height="8.93" fill="#f0f0f0" stroke="#6a6a6a" stroke-width="0.5"/>
<rect x="253.4" y="89.86" width="1.3" height="8.93" fill="#e2571e" stroke="#5a2a10" stroke-width="0.5"/>
<rect x="254.7" y="89.86" width="3.6" height="8.93" fill="#f2a81d" stroke="#6a4510" stroke-width="0.5"/>
<rect x="258.3" y="89.86" width="2.6" height="8.93" fill="#e3b4f7" stroke="#5f4a68" stroke-width="0.5"/>
<text class="yl" transform="translate(206.9,97.92) scale(0.948,1)">AVE 3173/2010 A</text>
<rect x="209.5" y="99.36" width="42.4" height="8.93" fill="#f0f0f0" stroke="#6a6a6a" stroke-width="0.5"/>
<rect x="251.9" y="99.36" width="2.0" height="8.93" fill="#e2571e" stroke="#5a2a10" stroke-width="0.5"/>
<rect x="253.9" y="99.36" width="4.1" height="8.93" fill="#f2a81d" stroke="#6a4510" stroke-width="0.5"/>
<rect x="258.0" y="99.36" width="2.7" height="8.93" fill="#e3b4f7" stroke="#5f4a68" stroke-width="0.5"/>
<text class="yr" transform="translate(206.9,107.42) scale(0.948,1)">*AVE 2032/1989</text>
<rect x="209.5" y="108.85" width="44.8" height="8.93" fill="#f0f0f0" stroke="#6a6a6a" stroke-width="0.5"/>
<rect x="254.3" y="108.85" width="1.5" height="8.93" fill="#e2571e" stroke="#5a2a10" stroke-width="0.5"/>
<rect x="255.8" y="108.85" width="3.8" height="8.93" fill="#f2a81d" stroke="#6a4510" stroke-width="0.5"/>
<rect x="259.6" y="108.85" width="2.4" height="8.93" fill="#e3b4f7" stroke="#5f4a68" stroke-width="0.5"/>
<text class="yl" transform="translate(206.9,116.92) scale(0.948,1)">AVE 2719/1991</text>
<rect x="209.5" y="118.35" width="53.9" height="8.93" fill="#f0f0f0" stroke="#6a6a6a" stroke-width="0.5"/>
<rect x="263.4" y="118.35" width="1.9" height="8.93" fill="#e2571e" stroke="#5a2a10" stroke-width="0.5"/>
<rect x="265.3" y="118.35" width="4.9" height="8.93" fill="#f2a81d" stroke="#6a4510" stroke-width="0.5"/>
<rect x="270.2" y="118.35" width="3.3" height="8.93" fill="#e3b4f7" stroke="#5f4a68" stroke-width="0.5"/>
<text class="yl" transform="translate(206.9,126.41) scale(0.948,1)">AVE 367/1975</text>
<rect x="209.5" y="127.84" width="55.0" height="8.93" fill="#f0f0f0" stroke="#6a6a6a" stroke-width="0.5"/>
<rect x="264.5" y="127.84" width="2.1" height="8.93" fill="#e2571e" stroke="#5a2a10" stroke-width="0.5"/>
<rect x="266.6" y="127.84" width="6.9" height="8.93" fill="#f2a81d" stroke="#6a4510" stroke-width="0.5"/>
<rect x="273.5" y="127.84" width="1.3" height="8.93" fill="#e3b4f7" stroke="#5f4a68" stroke-width="0.5"/>
<text class="yr" transform="translate(206.9,135.91) scale(0.948,1)">*AVE 2679/2002</text>
<rect x="209.5" y="137.34" width="55.8" height="8.93" fill="#f0f0f0" stroke="#6a6a6a" stroke-width="0.5"/>
<rect x="265.3" y="137.34" width="1.4" height="8.93" fill="#e2571e" stroke="#5a2a10" stroke-width="0.5"/>
<rect x="266.7" y="137.34" width="3.6" height="8.93" fill="#f2a81d" stroke="#6a4510" stroke-width="0.5"/>
<rect x="270.3" y="137.34" width="4.9" height="8.93" fill="#e3b4f7" stroke="#5f4a68" stroke-width="0.5"/>
<text class="yr" transform="translate(206.9,145.40) scale(0.948,1)">*AVE 1357/1985</text>
<rect x="209.5" y="146.84" width="56.0" height="8.93" fill="#f0f0f0" stroke="#6a6a6a" stroke-width="0.5"/>
<rect x="265.5" y="146.84" width="2.1" height="8.93" fill="#e2571e" stroke="#5a2a10" stroke-width="0.5"/>
<rect x="267.6" y="146.84" width="6.9" height="8.93" fill="#f2a81d" stroke="#6a4510" stroke-width="0.5"/>
<rect x="274.5" y="146.84" width="1.6" height="8.93" fill="#e3b4f7" stroke="#5f4a68" stroke-width="0.5"/>
<text class="yl" transform="translate(206.9,154.90) scale(0.948,1)">AVE 2770/1993</text>
<rect x="209.5" y="156.33" width="56.5" height="8.93" fill="#f0f0f0" stroke="#6a6a6a" stroke-width="0.5"/>
<rect x="266.0" y="156.33" width="2.0" height="8.93" fill="#e2571e" stroke="#5a2a10" stroke-width="0.5"/>
<rect x="268.0" y="156.33" width="6.2" height="8.93" fill="#f2a81d" stroke="#6a4510" stroke-width="0.5"/>
<rect x="274.2" y="156.33" width="1.9" height="8.93" fill="#e3b4f7" stroke="#5f4a68" stroke-width="0.5"/>
<text class="yl" transform="translate(206.9,164.40) scale(0.948,1)">AVE 2044/2012 A</text>
<rect x="209.5" y="165.83" width="55.5" height="8.93" fill="#f0f0f0" stroke="#6a6a6a" stroke-width="0.5"/>
<rect x="265.0" y="165.83" width="2.1" height="8.93" fill="#e2571e" stroke="#5a2a10" stroke-width="0.5"/>
<rect x="267.1" y="165.83" width="3.8" height="8.93" fill="#f2a81d" stroke="#6a4510" stroke-width="0.5"/>
<rect x="270.9" y="165.83" width="5.2" height="8.93" fill="#e3b4f7" stroke="#5f4a68" stroke-width="0.5"/>
<text class="yl" transform="translate(206.9,173.89) scale(0.948,1)">AVE 472/1993</text>
<rect x="209.5" y="175.32" width="65.0" height="8.93" fill="#f0f0f0" stroke="#6a6a6a" stroke-width="0.5"/>
<rect x="274.5" y="175.32" width="2.5" height="8.93" fill="#e2571e" stroke="#5a2a10" stroke-width="0.5"/>
<rect x="277.0" y="175.32" width="5.7" height="8.93" fill="#f2a81d" stroke="#6a4510" stroke-width="0.5"/>
<rect x="282.7" y="175.32" width="4.1" height="8.93" fill="#e3b4f7" stroke="#5f4a68" stroke-width="0.5"/>
<text class="yl" transform="translate(206.9,183.39) scale(0.948,1)">AVE 1133/2006 A</text>
<rect x="209.5" y="184.82" width="66.9" height="8.93" fill="#f0f0f0" stroke="#6a6a6a" stroke-width="0.5"/>
<rect x="276.4" y="184.82" width="3.1" height="8.93" fill="#e2571e" stroke="#5a2a10" stroke-width="0.5"/>
<rect x="279.5" y="184.82" width="6.4" height="8.93" fill="#f2a81d" stroke="#6a4510" stroke-width="0.5"/>
<rect x="285.9" y="184.82" width="4.2" height="8.93" fill="#e3b4f7" stroke="#5f4a68" stroke-width="0.5"/>
<text class="yl" transform="translate(206.9,192.88) scale(0.948,1)">AVE 812/2004 A</text>
<rect x="209.5" y="194.32" width="68.6" height="8.93" fill="#f0f0f0" stroke="#6a6a6a" stroke-width="0.5"/>
<rect x="278.1" y="194.32" width="2.4" height="8.93" fill="#e2571e" stroke="#5a2a10" stroke-width="0.5"/>
<rect x="280.5" y="194.32" width="5.8" height="8.93" fill="#f2a81d" stroke="#6a4510" stroke-width="0.5"/>
<rect x="286.3" y="194.32" width="4.7" height="8.93" fill="#e3b4f7" stroke="#5f4a68" stroke-width="0.5"/>
<text class="yl" transform="translate(206.9,202.38) scale(0.948,1)">AVE 1816/1990</text>
<rect x="209.5" y="203.81" width="68.9" height="8.93" fill="#f0f0f0" stroke="#6a6a6a" stroke-width="0.5"/>
<rect x="278.4" y="203.81" width="2.8" height="8.93" fill="#e2571e" stroke="#5a2a10" stroke-width="0.5"/>
<rect x="281.2" y="203.81" width="6.1" height="8.93" fill="#f2a81d" stroke="#6a4510" stroke-width="0.5"/>
<rect x="287.3" y="203.81" width="4.1" height="8.93" fill="#e3b4f7" stroke="#5f4a68" stroke-width="0.5"/>
<text class="yl" transform="translate(206.9,211.88) scale(0.948,1)">AVE 1049/2007 A</text>
<rect x="209.5" y="213.31" width="74.7" height="8.93" fill="#f0f0f0" stroke="#6a6a6a" stroke-width="0.5"/>
<rect x="284.2" y="213.31" width="1.9" height="8.93" fill="#e2571e" stroke="#5a2a10" stroke-width="0.5"/>
<rect x="286.1" y="213.31" width="7.8" height="8.93" fill="#f2a81d" stroke="#6a4510" stroke-width="0.5"/>
<rect x="293.9" y="213.31" width="1.8" height="8.93" fill="#e3b4f7" stroke="#5f4a68" stroke-width="0.5"/>
<text class="yl" transform="translate(206.9,221.37) scale(0.948,1)">AVE 1623/1994</text>
<rect x="209.5" y="222.80" width="73.0" height="8.93" fill="#f0f0f0" stroke="#6a6a6a" stroke-width="0.5"/>
<rect x="282.5" y="222.80" width="2.5" height="8.93" fill="#e2571e" stroke="#5a2a10" stroke-width="0.5"/>
<rect x="285.0" y="222.80" width="5.7" height="8.93" fill="#f2a81d" stroke="#6a4510" stroke-width="0.5"/>
<rect x="290.7" y="222.80" width="5.3" height="8.93" fill="#e3b4f7" stroke="#5f4a68" stroke-width="0.5"/>
<text class="yl" transform="translate(206.9,230.87) scale(0.948,1)">AVE 2537/1985</text>
<rect x="209.5" y="232.30" width="73.7" height="8.93" fill="#f0f0f0" stroke="#6a6a6a" stroke-width="0.5"/>
<rect x="283.2" y="232.30" width="2.5" height="8.93" fill="#e2571e" stroke="#5a2a10" stroke-width="0.5"/>
<rect x="285.7" y="232.30" width="5.7" height="8.93" fill="#f2a81d" stroke="#6a4510" stroke-width="0.5"/>
<rect x="291.4" y="232.30" width="4.9" height="8.93" fill="#e3b4f7" stroke="#5f4a68" stroke-width="0.5"/>
<text class="yl" transform="translate(206.9,240.36) scale(0.948,1)">AVE 2170/1982</text>
<rect x="209.5" y="241.80" width="77.4" height="8.93" fill="#f0f0f0" stroke="#6a6a6a" stroke-width="0.5"/>
<rect x="286.9" y="241.80" width="1.9" height="8.93" fill="#e2571e" stroke="#5a2a10" stroke-width="0.5"/>
<rect x="288.8" y="241.80" width="6.0" height="8.93" fill="#f2a81d" stroke="#6a4510" stroke-width="0.5"/>
<rect x="294.8" y="241.80" width="3.7" height="8.93" fill="#e3b4f7" stroke="#5f4a68" stroke-width="0.5"/>
<text class="yl" transform="translate(206.9,249.86) scale(0.948,1)">AVE 592/1982</text>
<rect x="209.5" y="251.29" width="74.8" height="8.93" fill="#f0f0f0" stroke="#6a6a6a" stroke-width="0.5"/>
<rect x="284.3" y="251.29" width="3.3" height="8.93" fill="#e2571e" stroke="#5a2a10" stroke-width="0.5"/>
<rect x="287.6" y="251.29" width="6.6" height="8.93" fill="#f2a81d" stroke="#6a4510" stroke-width="0.5"/>
<rect x="294.2" y="251.29" width="5.7" height="8.93" fill="#e3b4f7" stroke="#5f4a68" stroke-width="0.5"/>
<text class="yl" transform="translate(206.9,259.36) scale(0.948,1)">AVE 2859/1999</text>
<rect x="209.5" y="260.79" width="78.8" height="8.93" fill="#f0f0f0" stroke="#6a6a6a" stroke-width="0.5"/>
<rect x="288.3" y="260.79" width="1.6" height="8.93" fill="#e2571e" stroke="#5a2a10" stroke-width="0.5"/>
<rect x="289.9" y="260.79" width="7.6" height="8.93" fill="#f2a81d" stroke="#6a4510" stroke-width="0.5"/>
<rect x="297.5" y="260.79" width="2.7" height="8.93" fill="#e3b4f7" stroke="#5f4a68" stroke-width="0.5"/>
<text class="yl" transform="translate(206.9,268.85) scale(0.948,1)">AVE 220/1991</text>
<rect x="209.5" y="270.28" width="78.8" height="8.93" fill="#f0f0f0" stroke="#6a6a6a" stroke-width="0.5"/>
<rect x="288.3" y="270.28" width="2.6" height="8.93" fill="#e2571e" stroke="#5a2a10" stroke-width="0.5"/>
<rect x="290.9" y="270.28" width="7.4" height="8.93" fill="#f2a81d" stroke="#6a4510" stroke-width="0.5"/>
<rect x="298.3" y="270.28" width="4.4" height="8.93" fill="#e3b4f7" stroke="#5f4a68" stroke-width="0.5"/>
<text class="yl" transform="translate(206.9,278.35) scale(0.948,1)">AVE 815/2008 A</text>
<rect x="209.5" y="279.78" width="79.8" height="8.93" fill="#f0f0f0" stroke="#6a6a6a" stroke-width="0.5"/>
<rect x="289.3" y="279.78" width="2.3" height="8.93" fill="#e2571e" stroke="#5a2a10" stroke-width="0.5"/>
<rect x="291.6" y="279.78" width="7.0" height="8.93" fill="#f2a81d" stroke="#6a4510" stroke-width="0.5"/>
<rect x="298.6" y="279.78" width="4.9" height="8.93" fill="#e3b4f7" stroke="#5f4a68" stroke-width="0.5"/>
<text class="yl" transform="translate(206.9,287.84) scale(0.948,1)">AVE 1648/2006 A</text>
<rect x="209.5" y="289.28" width="79.6" height="8.93" fill="#f0f0f0" stroke="#6a6a6a" stroke-width="0.5"/>
<rect x="289.1" y="289.28" width="2.5" height="8.93" fill="#e2571e" stroke="#5a2a10" stroke-width="0.5"/>
<rect x="291.6" y="289.28" width="7.3" height="8.93" fill="#f2a81d" stroke="#6a4510" stroke-width="0.5"/>
<rect x="298.9" y="289.28" width="4.6" height="8.93" fill="#e3b4f7" stroke="#5f4a68" stroke-width="0.5"/>
<text class="yl" transform="translate(206.9,297.34) scale(0.948,1)">AVE 1463/2012 A</text>
<rect x="209.5" y="298.77" width="83.8" height="8.93" fill="#f0f0f0" stroke="#6a6a6a" stroke-width="0.5"/>
<rect x="293.3" y="298.77" width="1.6" height="8.93" fill="#e2571e" stroke="#5a2a10" stroke-width="0.5"/>
<rect x="294.9" y="298.77" width="6.6" height="8.93" fill="#f2a81d" stroke="#6a4510" stroke-width="0.5"/>
<rect x="301.5" y="298.77" width="3.7" height="8.93" fill="#e3b4f7" stroke="#5f4a68" stroke-width="0.5"/>
<text class="yl" transform="translate(206.9,306.84) scale(0.948,1)">AVE 2274/1994</text>
<rect x="209.5" y="308.27" width="83.0" height="8.93" fill="#f0f0f0" stroke="#6a6a6a" stroke-width="0.5"/>
<rect x="292.5" y="308.27" width="2.9" height="8.93" fill="#e2571e" stroke="#5a2a10" stroke-width="0.5"/>
<rect x="295.4" y="308.27" width="7.1" height="8.93" fill="#f2a81d" stroke="#6a4510" stroke-width="0.5"/>
<rect x="302.5" y="308.27" width="5.2" height="8.93" fill="#e3b4f7" stroke="#5f4a68" stroke-width="0.5"/>
<text class="yl" transform="translate(206.9,316.33) scale(0.948,1)">AVE 1650/1993</text>
<rect x="209.5" y="317.76" width="87.5" height="8.93" fill="#f0f0f0" stroke="#6a6a6a" stroke-width="0.5"/>
<rect x="297.0" y="317.76" width="2.2" height="8.93" fill="#e2571e" stroke="#5a2a10" stroke-width="0.5"/>
<rect x="299.2" y="317.76" width="7.2" height="8.93" fill="#f2a81d" stroke="#6a4510" stroke-width="0.5"/>
<rect x="306.4" y="317.76" width="4.6" height="8.93" fill="#e3b4f7" stroke="#5f4a68" stroke-width="0.5"/>
<text class="yl" transform="translate(206.9,325.83) scale(0.948,1)">AVE 1325/2007 A</text>
<rect x="209.5" y="327.26" width="90.5" height="8.93" fill="#f0f0f0" stroke="#6a6a6a" stroke-width="0.5"/>
<rect x="300.0" y="327.26" width="1.1" height="8.93" fill="#e2571e" stroke="#5a2a10" stroke-width="0.5"/>
<rect x="301.1" y="327.26" width="7.1" height="8.93" fill="#f2a81d" stroke="#6a4510" stroke-width="0.5"/>
<rect x="308.2" y="327.26" width="4.1" height="8.93" fill="#e3b4f7" stroke="#5f4a68" stroke-width="0.5"/>
<text class="yl" transform="translate(206.9,335.32) scale(0.948,1)">AVE 1011/2009 A</text>
<rect x="209.5" y="336.76" width="90.0" height="8.93" fill="#f0f0f0" stroke="#6a6a6a" stroke-width="0.5"/>
<rect x="299.5" y="336.76" width="1.3" height="8.93" fill="#e2571e" stroke="#5a2a10" stroke-width="0.5"/>
<rect x="300.8" y="336.76" width="8.5" height="8.93" fill="#f2a81d" stroke="#6a4510" stroke-width="0.5"/>
<rect x="309.3" y="336.76" width="3.8" height="8.93" fill="#e3b4f7" stroke="#5f4a68" stroke-width="0.5"/>
<text class="yl" transform="translate(206.9,344.82) scale(0.948,1)">AVE 1473/1979</text>
<rect x="209.5" y="346.25" width="86.4" height="8.93" fill="#f0f0f0" stroke="#6a6a6a" stroke-width="0.5"/>
<rect x="295.9" y="346.25" width="3.6" height="8.93" fill="#e2571e" stroke="#5a2a10" stroke-width="0.5"/>
<rect x="299.5" y="346.25" width="6.9" height="8.93" fill="#f2a81d" stroke="#6a4510" stroke-width="0.5"/>
<rect x="306.4" y="346.25" width="7.0" height="8.93" fill="#e3b4f7" stroke="#5f4a68" stroke-width="0.5"/>
<text class="yl" transform="translate(206.9,354.32) scale(0.948,1)">AVE 2950/1995</text>
<rect x="209.5" y="355.75" width="89.9" height="8.93" fill="#f0f0f0" stroke="#6a6a6a" stroke-width="0.5"/>
<rect x="299.4" y="355.75" width="1.6" height="8.93" fill="#e2571e" stroke="#5a2a10" stroke-width="0.5"/>
<rect x="301.0" y="355.75" width="7.3" height="8.93" fill="#f2a81d" stroke="#6a4510" stroke-width="0.5"/>
<rect x="308.3" y="355.75" width="5.0" height="8.93" fill="#e3b4f7" stroke="#5f4a68" stroke-width="0.5"/>
<text class="yl" transform="translate(206.9,363.81) scale(0.948,1)">AVE 2396/2007 A</text>
<rect x="209.5" y="365.24" width="89.0" height="8.93" fill="#f0f0f0" stroke="#6a6a6a" stroke-width="0.5"/>
<rect x="298.5" y="365.24" width="2.8" height="8.93" fill="#e2571e" stroke="#5a2a10" stroke-width="0.5"/>
<rect x="301.3" y="365.24" width="5.4" height="8.93" fill="#f2a81d" stroke="#6a4510" stroke-width="0.5"/>
<rect x="306.7" y="365.24" width="8.2" height="8.93" fill="#e3b4f7" stroke="#5f4a68" stroke-width="0.5"/>
<text class="yl" transform="translate(206.9,373.31) scale(0.948,1)">AVE 2759/1991</text>
<rect x="209.5" y="374.74" width="89.0" height="8.93" fill="#f0f0f0" stroke="#6a6a6a" stroke-width="0.5"/>
<rect x="298.5" y="374.74" width="2.8" height="8.93" fill="#e2571e" stroke="#5a2a10" stroke-width="0.5"/>
<rect x="301.3" y="374.74" width="8.2" height="8.93" fill="#f2a81d" stroke="#6a4510" stroke-width="0.5"/>
<rect x="309.5" y="374.74" width="5.7" height="8.93" fill="#e3b4f7" stroke="#5f4a68" stroke-width="0.5"/>
<text class="yl" transform="translate(206.9,382.80) scale(0.948,1)">AVE 2028/1980</text>
<rect x="209.5" y="384.24" width="90.7" height="8.93" fill="#f0f0f0" stroke="#6a6a6a" stroke-width="0.5"/>
<rect x="300.2" y="384.24" width="1.9" height="8.93" fill="#e2571e" stroke="#5a2a10" stroke-width="0.5"/>
<rect x="302.1" y="384.24" width="8.2" height="8.93" fill="#f2a81d" stroke="#6a4510" stroke-width="0.5"/>
<rect x="310.3" y="384.24" width="5.8" height="8.93" fill="#e3b4f7" stroke="#5f4a68" stroke-width="0.5"/>
<text class="yl" transform="translate(206.9,392.30) scale(0.948,1)">AVE 1354/1993</text>
<rect x="209.5" y="393.73" width="92.3" height="8.93" fill="#f0f0f0" stroke="#6a6a6a" stroke-width="0.5"/>
<rect x="301.8" y="393.73" width="2.5" height="8.93" fill="#e2571e" stroke="#5a2a10" stroke-width="0.5"/>
<rect x="304.3" y="393.73" width="7.7" height="8.93" fill="#f2a81d" stroke="#6a4510" stroke-width="0.5"/>
<rect x="312.0" y="393.73" width="5.7" height="8.93" fill="#e3b4f7" stroke="#5f4a68" stroke-width="0.5"/>
<text class="yl" transform="translate(206.9,401.80) scale(0.948,1)">AVE 2969/1995</text>
<rect x="209.5" y="403.23" width="89.9" height="8.93" fill="#f0f0f0" stroke="#6a6a6a" stroke-width="0.5"/>
<rect x="299.4" y="403.23" width="5.8" height="8.93" fill="#e2571e" stroke="#5a2a10" stroke-width="0.5"/>
<rect x="305.2" y="403.23" width="8.7" height="8.93" fill="#f2a81d" stroke="#6a4510" stroke-width="0.5"/>
<rect x="313.9" y="403.23" width="5.5" height="8.93" fill="#e3b4f7" stroke="#5f4a68" stroke-width="0.5"/>
<text class="yl" transform="translate(206.9,411.29) scale(0.948,1)">AVE 2080/2004 A</text>
<rect x="209.5" y="412.72" width="95.5" height="8.93" fill="#f0f0f0" stroke="#6a6a6a" stroke-width="0.5"/>
<rect x="305.0" y="412.72" width="1.3" height="8.93" fill="#e2571e" stroke="#5a2a10" stroke-width="0.5"/>
<rect x="306.3" y="412.72" width="7.9" height="8.93" fill="#f2a81d" stroke="#6a4510" stroke-width="0.5"/>
<rect x="314.2" y="412.72" width="5.7" height="8.93" fill="#e3b4f7" stroke="#5f4a68" stroke-width="0.5"/>
<text class="yl" transform="translate(206.9,420.79) scale(0.948,1)">AVE 1157/1980</text>
<rect x="209.5" y="422.22" width="93.5" height="8.93" fill="#f0f0f0" stroke="#6a6a6a" stroke-width="0.5"/>
<rect x="303.0" y="422.22" width="3.0" height="8.93" fill="#e2571e" stroke="#5a2a10" stroke-width="0.5"/>
<rect x="306.0" y="422.22" width="6.9" height="8.93" fill="#f2a81d" stroke="#6a4510" stroke-width="0.5"/>
<rect x="312.9" y="422.22" width="7.3" height="8.93" fill="#e3b4f7" stroke="#5f4a68" stroke-width="0.5"/>
<text class="yl" transform="translate(206.9,430.28) scale(0.948,1)">AVE 2570/1989</text>
<rect x="209.5" y="431.72" width="94.7" height="8.93" fill="#f0f0f0" stroke="#6a6a6a" stroke-width="0.5"/>
<rect x="304.2" y="431.72" width="2.4" height="8.93" fill="#e2571e" stroke="#5a2a10" stroke-width="0.5"/>
<rect x="306.6" y="431.72" width="7.9" height="8.93" fill="#f2a81d" stroke="#6a4510" stroke-width="0.5"/>
<rect x="314.5" y="431.72" width="6.6" height="8.93" fill="#e3b4f7" stroke="#5f4a68" stroke-width="0.5"/>
<text class="yl" transform="translate(206.9,439.78) scale(0.948,1)">AVE 457/1987</text>
<rect x="209.5" y="441.21" width="97.6" height="8.93" fill="#f0f0f0" stroke="#6a6a6a" stroke-width="0.5"/>
<rect x="307.1" y="441.21" width="2.8" height="8.93" fill="#e2571e" stroke="#5a2a10" stroke-width="0.5"/>
<rect x="309.9" y="441.21" width="8.7" height="8.93" fill="#f2a81d" stroke="#6a4510" stroke-width="0.5"/>
<rect x="318.6" y="441.21" width="5.7" height="8.93" fill="#e3b4f7" stroke="#5f4a68" stroke-width="0.5"/>
<text class="yl" transform="translate(206.9,449.28) scale(0.948,1)">AVE 2943/1995</text>
<rect x="209.5" y="450.71" width="97.7" height="8.93" fill="#f0f0f0" stroke="#6a6a6a" stroke-width="0.5"/>
<rect x="307.2" y="450.71" width="2.5" height="8.93" fill="#e2571e" stroke="#5a2a10" stroke-width="0.5"/>
<rect x="309.7" y="450.71" width="8.2" height="8.93" fill="#f2a81d" stroke="#6a4510" stroke-width="0.5"/>
<rect x="317.9" y="450.71" width="6.5" height="8.93" fill="#e3b4f7" stroke="#5f4a68" stroke-width="0.5"/>
<text class="yl" transform="translate(206.9,458.77) scale(0.948,1)">AVE 842/2004 A</text>
<rect x="209.5" y="460.20" width="101.8" height="8.93" fill="#f0f0f0" stroke="#6a6a6a" stroke-width="0.5"/>
<rect x="311.3" y="460.20" width="3.8" height="8.93" fill="#e2571e" stroke="#5a2a10" stroke-width="0.5"/>
<rect x="315.1" y="460.20" width="8.5" height="8.93" fill="#f2a81d" stroke="#6a4510" stroke-width="0.5"/>
<rect x="323.6" y="460.20" width="7.4" height="8.93" fill="#e3b4f7" stroke="#5f4a68" stroke-width="0.5"/>
<text class="yr" transform="translate(206.9,468.27) scale(0.948,1)">*AVE 3048/1997</text>
<rect x="209.5" y="469.70" width="101.4" height="8.93" fill="#f0f0f0" stroke="#6a6a6a" stroke-width="0.5"/>
<rect x="310.9" y="469.70" width="5.1" height="8.93" fill="#e2571e" stroke="#5a2a10" stroke-width="0.5"/>
<rect x="316.0" y="469.70" width="8.5" height="8.93" fill="#f2a81d" stroke="#6a4510" stroke-width="0.5"/>
<rect x="324.5" y="469.70" width="7.4" height="8.93" fill="#e3b4f7" stroke="#5f4a68" stroke-width="0.5"/>
<text class="yl" transform="translate(206.9,477.76) scale(0.948,1)">AVE 3193/1999</text>
<rect x="209.5" y="479.20" width="105.2" height="8.93" fill="#f0f0f0" stroke="#6a6a6a" stroke-width="0.5"/>
<rect x="314.7" y="479.20" width="2.9" height="8.93" fill="#e2571e" stroke="#5a2a10" stroke-width="0.5"/>
<rect x="317.6" y="479.20" width="10.2" height="8.93" fill="#f2a81d" stroke="#6a4510" stroke-width="0.5"/>
<rect x="327.8" y="479.20" width="5.7" height="8.93" fill="#e3b4f7" stroke="#5f4a68" stroke-width="0.5"/>
<text class="yl" transform="translate(206.9,487.26) scale(0.948,1)">AVE 2010/1991</text>
<rect x="209.5" y="488.69" width="108.5" height="8.93" fill="#f0f0f0" stroke="#6a6a6a" stroke-width="0.5"/>
<rect x="318.0" y="488.69" width="3.2" height="8.93" fill="#e2571e" stroke="#5a2a10" stroke-width="0.5"/>
<rect x="321.2" y="488.69" width="9.8" height="8.93" fill="#f2a81d" stroke="#6a4510" stroke-width="0.5"/>
<rect x="331.0" y="488.69" width="6.6" height="8.93" fill="#e3b4f7" stroke="#5f4a68" stroke-width="0.5"/>
<text class="yl" transform="translate(206.9,496.76) scale(0.948,1)">AVE 563/1995</text>
<rect x="209.5" y="498.19" width="112.5" height="8.93" fill="#f0f0f0" stroke="#6a6a6a" stroke-width="0.5"/>
<rect x="322.0" y="498.19" width="3.3" height="8.93" fill="#e2571e" stroke="#5a2a10" stroke-width="0.5"/>
<rect x="325.3" y="498.19" width="9.5" height="8.93" fill="#f2a81d" stroke="#6a4510" stroke-width="0.5"/>
<rect x="334.8" y="498.19" width="7.7" height="8.93" fill="#e3b4f7" stroke="#5f4a68" stroke-width="0.5"/>
<text class="yl" transform="translate(206.9,506.25) scale(0.948,1)">AVE 2341/1985</text>
<text class="tk" transform="translate(209.5,518.7) scale(0.945,1)">0</text>
<text class="tk" transform="translate(239.5,518.7) scale(0.945,1)">10</text>
<text class="tk" transform="translate(269.5,518.7) scale(0.945,1)">20</text>
<text class="tk" transform="translate(299.5,518.7) scale(0.945,1)">30</text>
<text class="tk" transform="translate(329.5,518.7) scale(0.945,1)">40</text>
<text class="tk" transform="translate(359.5,518.7) scale(0.945,1)">50</text>
<text transform="translate(285.1,530.0) scale(0.94,1)" font-size="10.55" font-weight="bold" text-anchor="middle" fill="#111">compound [mg]</text>
<rect x="267.2" y="40.5" width="78.7" height="38.1" fill="#fff" stroke="#555" stroke-width="0.7"/>
<rect x="269.4" y="43.3" width="24.8" height="6" fill="#e3b4f7" stroke="#555" stroke-width="0.6"/>
<text class="lg" transform="translate(296.8,48.9) scale(0.945,1)">Weight</text>
<rect x="269.4" y="52.4" width="24.8" height="6" fill="#f0f0f0" stroke="#555" stroke-width="0.6"/>
<text class="lg" transform="translate(296.8,58.0) scale(0.945,1)">Carbohydrates</text>
<rect x="269.4" y="61.5" width="24.8" height="6" fill="#e2571e" stroke="#555" stroke-width="0.6"/>
<text class="lg" transform="translate(296.8,67.2) scale(0.945,1)">Oil</text>
<rect x="269.4" y="70.6" width="24.8" height="6" fill="#f2a81d" stroke="#555" stroke-width="0.6"/>
<text class="lg" transform="translate(296.8,76.2) scale(0.945,1)">Protein</text>
</g>
</svg></body></html>
